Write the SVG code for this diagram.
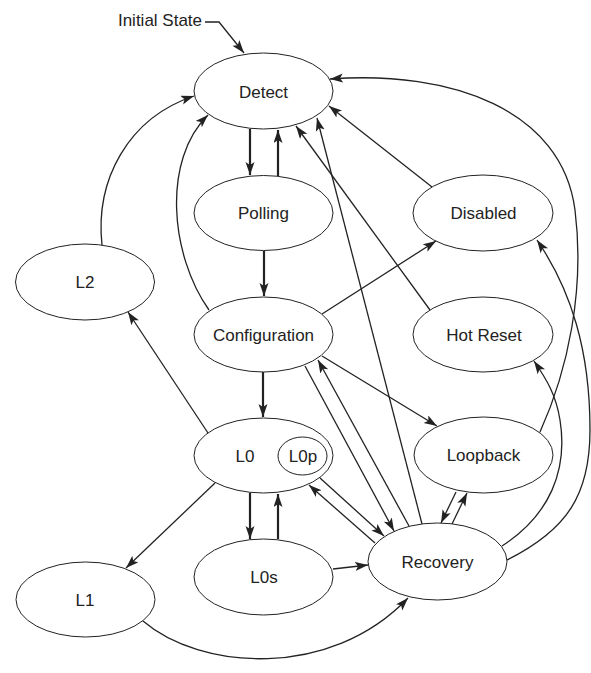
<svg xmlns="http://www.w3.org/2000/svg" width="591" height="673" viewBox="0 0 591 673">
<defs>
<marker id="ah" markerUnits="userSpaceOnUse" markerWidth="14" markerHeight="10" refX="13" refY="4.5" orient="auto">
<path d="M0,0 L13,4.5 L0,9 L3,4.5 z" fill="#222"/>
</marker>
</defs>
<style>
.n ellipse{fill:#fff;stroke:#222;stroke-width:1}
text{font-family:"Liberation Sans",Arial,sans-serif;font-size:17px;fill:#222;text-anchor:middle}
.c path{fill:none;stroke:#222;stroke-width:1.3;marker-end:url(#ah)}
.c path.t{stroke-width:2.2}
</style>
<rect width="591" height="673" fill="#fff"/>
<g id="connectors" class="c">
<path d="M205,22 L219,22 L244,53"/>
<path class="t" d="M250,129 L250,175"/>
<path class="t" d="M278,176 L278,130"/>
<path class="t" d="M264,251 L264,296"/>
<path class="t" d="M263,372 L263,417"/>
<path class="t" d="M250,493 L250,539"/>
<path class="t" d="M278,539 L278,494"/>
<path d="M333,569 L368,565"/>
<path d="M215,483 L126,568"/>
<path d="M208,433 L128,312"/>
<path d="M322,314 L436,241"/>
<path d="M322,356 L437,426"/>
<path d="M305,366 L394,531"/>
<path d="M409,526 L318,360"/>
<path d="M422,524 L317,118"/>
<path d="M430,310 L296,126"/>
<path d="M432,187 L329,106"/>
<path d="M320,478 L384,536"/>
<path d="M375,543 L309,485"/>
<path d="M456,492 L441,523"/>
<path d="M452,524 L467,493"/>
<path d="M102,245 C95,180 128,118 194,96"/>
<path d="M209,310 C170,255 162,160 208,115"/>
<path d="M540,432 C568,370 585,290 575,210 C562,110 452,70 330,79"/>
<path d="M507,560 C567,530 590,495 590,430 C590,350 571,290 537,240"/>
<path d="M502,546 C550,515 568,470 560,420 C556,395 547,380 534,361"/>
<path d="M143,621 C200,670 330,680 408,598"/>
</g>
<text x="160" y="26">Initial State</text>
<g id="detect" class="n"><ellipse cx="263.5" cy="91" rx="69.5" ry="38"/><text x="263.5" y="97.5">Detect</text></g>
<g id="polling" class="n"><ellipse cx="263.5" cy="213" rx="69.5" ry="37.5"/><text x="263.5" y="219">Polling</text></g>
<g id="disabled" class="n"><ellipse cx="483" cy="213" rx="70" ry="38"/><text x="483.5" y="219">Disabled</text></g>
<g id="l2" class="n"><ellipse cx="85" cy="282" rx="69.5" ry="38"/><text x="85" y="288">L2</text></g>
<g id="configuration" class="n"><ellipse cx="263.5" cy="334.5" rx="69.5" ry="37.5"/><text x="263.5" y="340.5">Configuration</text></g>
<g id="hotreset" class="n"><ellipse cx="483" cy="334.5" rx="70" ry="37.5"/><text x="484" y="340.5">Hot Reset</text></g>
<g id="l0" class="n"><ellipse cx="263.5" cy="455.5" rx="69.5" ry="37.5"/><text x="245" y="461.5">L0</text>
<g id="l0p"><ellipse cx="302.5" cy="456" rx="24.5" ry="19"/><text x="303" y="462">L0p</text></g></g>
<g id="loopback" class="n"><ellipse cx="483.5" cy="455" rx="69.5" ry="38"/><text x="483.5" y="461">Loopback</text></g>
<g id="l0s" class="n"><ellipse cx="263.5" cy="577" rx="69.5" ry="38"/><text x="264" y="583">L0s</text></g>
<g id="recovery" class="n"><ellipse cx="437.5" cy="561.5" rx="69.5" ry="38.5"/><text x="437.5" y="567.5">Recovery</text></g>
<g id="l1" class="n"><ellipse cx="85.5" cy="599.5" rx="69.5" ry="37.5"/><text x="85" y="605.5">L1</text></g>
</svg>
